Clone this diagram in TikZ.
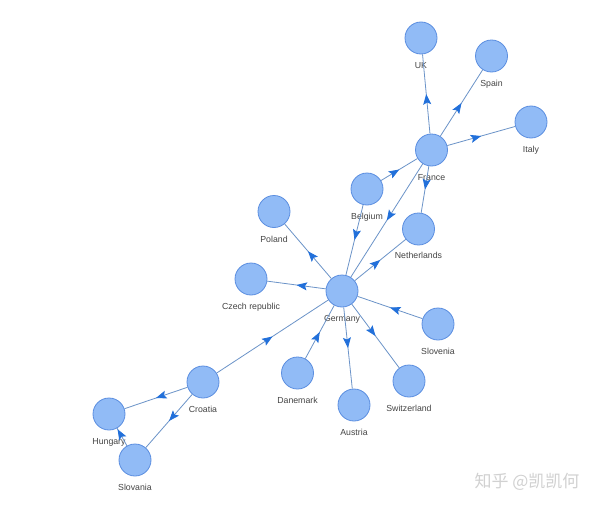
\documentclass[tikz,border=0pt]{standalone}
\usepackage{fontspec}
\setmainfont{Liberation Sans}
\newfontfamily\cjkfont{Noto Sans CJK SC}
\usetikzlibrary{arrows.meta,decorations.markings}
\definecolor{nodefill}{HTML}{91BBF6}
\definecolor{nodeline}{HTML}{5B8EE0}
\definecolor{linec}{HTML}{6B93C8}
\definecolor{arrowc}{HTML}{2270DA}
\definecolor{textc}{HTML}{444444}
\tikzset{
  country/.style={circle, fill=nodefill, draw=nodeline, line width=0.8pt, minimum size=32pt, inner sep=0pt},
  lbl/.style={font=\fontsize{8.75}{10}\selectfont, text=textc, anchor=base, inner sep=0pt},
  conn/.style={draw=linec, line width=0.8pt, postaction={decorate},
    decoration={markings, mark=at position #1 with {\arrow{Stealth[length=10.5pt,width=8pt,inset=2pt,color=arrowc]}}}},
  conn/.default=0.5,
  wm/.style={font=\cjkfont\fontsize{17}{19}\selectfont, text=black!18, inner sep=0pt}
}
\begin{document}
\begin{tikzpicture}[x=1pt,y=-1pt]
\useasboundingbox[fill=white] (0,0) rectangle (600,506);
% nodes
\node[country] (uk) at (421,38) {};
\node[country] (spain) at (491.5,56) {};
\node[country] (italy) at (531,122) {};
\node[country] (france) at (431.5,150) {};
\node[country] (belgium) at (367,189) {};
\node[country] (poland) at (274,211.5) {};
\node[country] (netherlands) at (418.5,229) {};
\node[country] (czech) at (251,279) {};
\node[country] (germany) at (342,291) {};
\node[country] (slovenia) at (438,324) {};
\node[country] (croatia) at (203,382) {};
\node[country] (danemark) at (297.5,373) {};
\node[country] (switzerland) at (409,381) {};
\node[country] (austria) at (354,405) {};
\node[country] (hungary) at (109,414) {};
\node[country] (slovania) at (135,460) {};
% labels
\node[lbl] (uk-l) at (421,68) {UK};
\node[lbl] (spain-l) at (491.5,86) {Spain};
\node[lbl] (italy-l) at (531,152) {Italy};
\node[lbl] (france-l) at (431.5,180) {France};
\node[lbl] (belgium-l) at (367,219) {Belgium};
\node[lbl] (poland-l) at (274,242) {Poland};
\node[lbl] (netherlands-l) at (418.5,258) {Netherlands};
\node[lbl] (czech-l) at (251,309) {Czech republic};
\node[lbl] (germany-l) at (342,321) {Germany};
\node[lbl] (slovenia-l) at (438,354) {Slovenia};
\node[lbl] (croatia-l) at (203,412) {Croatia};
\node[lbl] (danemark-l) at (297.5,403) {Danemark};
\node[lbl] (switzerland-l) at (409,411) {Switzerland};
\node[lbl] (austria-l) at (354,435) {Austria};
\node[lbl] (hungary-l) at (109,444) {Hungary};
\node[lbl] (slovania-l) at (135,490) {Slovania};
% connectors
\draw[conn] (france) -- (uk);
\draw[conn] (france) -- (spain);
\draw[conn] (france) -- (italy);
\draw[conn] (belgium) -- (france);
\draw[conn] (france) -- (netherlands);
\draw[conn] (france) -- (germany);
\draw[conn] (belgium) -- (germany);
\draw[conn] (germany) -- (netherlands);
\draw[conn] (germany) -- (poland);
\draw[conn] (germany) -- (czech);
\draw[conn] (slovenia) -- (germany);
\draw[conn] (germany) -- (switzerland);
\draw[conn] (germany) -- (austria);
\draw[conn] (danemark) -- (germany);
\draw[conn] (croatia) -- (germany);
\draw[conn] (croatia) -- (hungary);
\draw[conn] (croatia) -- (slovania);
\draw[conn=0.95] (slovania) -- (hungary);
% watermark
\node[wm] (wm) at (527,482) {知乎\ @凯凯何};
\end{tikzpicture}
\end{document}
